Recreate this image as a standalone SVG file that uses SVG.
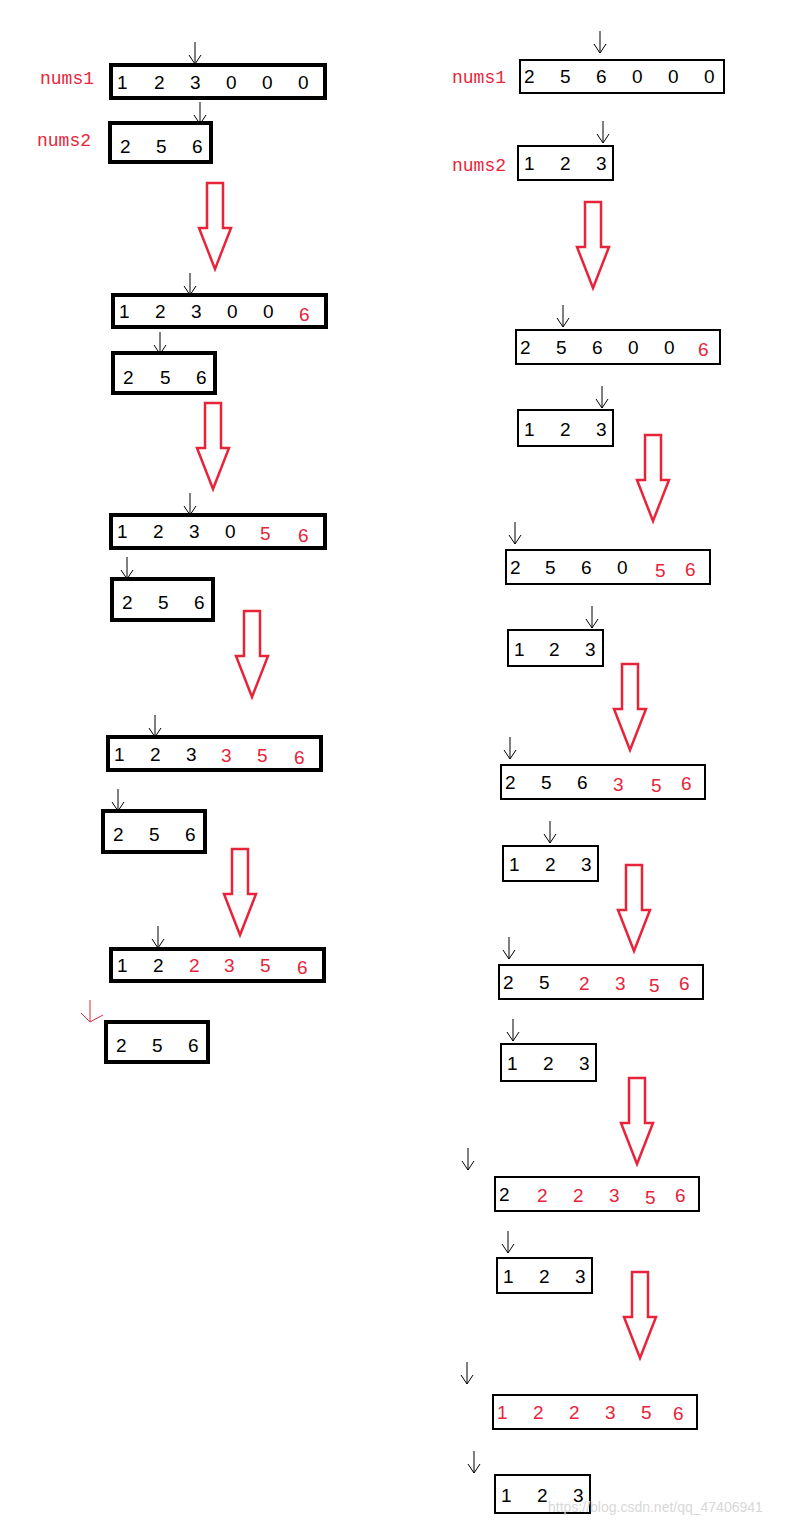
<svg xmlns="http://www.w3.org/2000/svg" width="799" height="1526" viewBox="0 0 799 1526">
<defs>
<style>
.bl{fill:#fff;stroke:#000;stroke-width:4}
.br{fill:#fff;stroke:#000;stroke-width:2}
text{font-family:"Liberation Sans",sans-serif;font-size:19px;fill:#000}
.r{fill:#e8243a}
.lab{font-family:"Liberation Mono",monospace;font-size:18px;fill:#e8243a}
.big{fill:#fff;stroke:#e8243a;stroke-width:2.5;stroke-linejoin:miter}
.sa{stroke:#000;stroke-width:1;fill:none}
</style>
<path id="ba" d="M8,0 H24 V45 H32 L16,86 L0,45 H8 Z"/>
<path id="sa" d="M0,0 V22 M-6,13 L0,22 L6,13"/>
</defs>
<rect width="799" height="1526" fill="#fff"/>
<g id="labels">
<text class="lab" x="40" y="84">nums1</text>
<text class="lab" x="37" y="146">nums2</text>
<text class="lab" x="452" y="83">nums1</text>
<text class="lab" x="452" y="171">nums2</text>
</g>
<g id="connectors">
<use href="#ba" class="big" x="199" y="183"/>
<use href="#ba" class="big" x="197" y="403"/>
<use href="#ba" class="big" x="236" y="611"/>
<use href="#ba" class="big" x="224" y="849"/>
<use href="#ba" class="big" x="577" y="202"/>
<use href="#ba" class="big" x="637" y="435"/>
<use href="#ba" class="big" x="614" y="664"/>
<use href="#ba" class="big" x="618" y="865"/>
<use href="#ba" class="big" x="621" y="1078"/>
<use href="#ba" class="big" x="624" y="1272"/>
<use href="#sa" class="sa" x="195" y="42"/>
<use href="#sa" class="sa" x="200" y="102"/>
<use href="#sa" class="sa" x="190" y="273"/>
<use href="#sa" class="sa" x="160" y="332"/>
<use href="#sa" class="sa" x="190" y="493"/>
<use href="#sa" class="sa" x="127" y="557"/>
<use href="#sa" class="sa" x="155" y="715"/>
<use href="#sa" class="sa" x="118" y="789"/>
<use href="#sa" class="sa" x="158" y="926"/>
<path d="M90,1000 V1022 M81,1013 L90,1022 L103,1015" stroke="#e8243a" fill="none"/>
<use href="#sa" class="sa" x="600" y="31"/>
<use href="#sa" class="sa" x="603" y="121"/>
<use href="#sa" class="sa" x="563" y="305"/>
<use href="#sa" class="sa" x="602" y="386"/>
<use href="#sa" class="sa" x="515" y="522"/>
<use href="#sa" class="sa" x="592" y="606"/>
<use href="#sa" class="sa" x="510" y="737"/>
<use href="#sa" class="sa" x="550" y="821"/>
<use href="#sa" class="sa" x="509" y="937"/>
<use href="#sa" class="sa" x="513" y="1019"/>
<use href="#sa" class="sa" x="468" y="1148"/>
<use href="#sa" class="sa" x="508" y="1231"/>
<use href="#sa" class="sa" x="467" y="1362"/>
<use href="#sa" class="sa" x="474" y="1451"/>
</g>
<g id="L1"><rect class="bl" x="111" y="65" width="214" height="33"/><text x="117" y="89">1</text><text x="154" y="89">2</text><text x="190" y="89">3</text><text x="226" y="89">0</text><text x="262" y="89">0</text><text x="298" y="89">0</text></g>
<g id="L2"><rect class="bl" x="110" y="123" width="101" height="39"/><text x="120" y="153">2</text><text x="156" y="153">5</text><text x="192" y="153">6</text></g>
<g id="L3"><rect class="bl" x="113" y="295" width="213" height="32"/><text x="119" y="318">1</text><text x="155" y="318">2</text><text x="191" y="318">3</text><text x="227" y="318">0</text><text x="263" y="318">0</text><text class="r" x="299" y="321">6</text></g>
<g id="L4"><rect class="bl" x="113" y="353" width="102" height="40"/><text x="123" y="384">2</text><text x="160" y="384">5</text><text x="196" y="384">6</text></g>
<g id="L5"><rect class="bl" x="111" y="515" width="214" height="33"/><text x="117" y="538">1</text><text x="153" y="538">2</text><text x="189" y="538">3</text><text x="225" y="538">0</text><text class="r" x="260" y="540">5</text><text class="r" x="298" y="542">6</text></g>
<g id="L6"><rect class="bl" x="112" y="579" width="101" height="41"/><text x="122" y="609">2</text><text x="158" y="609">5</text><text x="194" y="609">6</text></g>
<g id="L7"><rect class="bl" x="108" y="737" width="213" height="33"/><text x="114" y="761">1</text><text x="150" y="761">2</text><text x="186" y="761">3</text><text class="r" x="221" y="762">3</text><text class="r" x="257" y="762">5</text><text class="r" x="294" y="764">6</text></g>
<g id="L8"><rect class="bl" x="103" y="811" width="102" height="41"/><text x="113" y="841">2</text><text x="149" y="841">5</text><text x="185" y="841">6</text></g>
<g id="L9"><rect class="bl" x="111" y="949" width="213" height="32"/><text x="117" y="972">1</text><text x="153" y="972">2</text><text class="r" x="189" y="972">2</text><text class="r" x="224" y="972">3</text><text class="r" x="260" y="972">5</text><text class="r" x="297" y="974">6</text></g>
<g id="L10"><rect class="bl" x="106" y="1022" width="102" height="40"/><text x="116" y="1052">2</text><text x="152" y="1052">5</text><text x="188" y="1052">6</text></g>
<g id="R1"><rect class="br" x="520" y="60" width="204" height="33"/><text x="524" y="83">2</text><text x="560" y="83">5</text><text x="596" y="83">6</text><text x="632" y="83">0</text><text x="668" y="83">0</text><text x="704" y="83">0</text></g>
<g id="R2"><rect class="br" x="518" y="146" width="95" height="34"/><text x="524" y="170">1</text><text x="560" y="170">2</text><text x="596" y="170">3</text></g>
<g id="R3"><rect class="br" x="516" y="330" width="204" height="34"/><text x="520" y="354">2</text><text x="556" y="354">5</text><text x="592" y="354">6</text><text x="628" y="354">0</text><text x="664" y="354">0</text><text class="r" x="698" y="356">6</text></g>
<g id="R4"><rect class="br" x="518" y="410" width="95" height="36"/><text x="524" y="436">1</text><text x="560" y="436">2</text><text x="596" y="436">3</text></g>
<g id="R5"><rect class="br" x="506" y="550" width="204" height="34"/><text x="510" y="574">2</text><text x="545" y="574">5</text><text x="581" y="574">6</text><text x="617" y="574">0</text><text class="r" x="655" y="577">5</text><text class="r" x="685" y="576">6</text></g>
<g id="R6"><rect class="br" x="508" y="630" width="95" height="36"/><text x="514" y="656">1</text><text x="549" y="656">2</text><text x="585" y="656">3</text></g>
<g id="R7"><rect class="br" x="501" y="765" width="204" height="34"/><text x="505" y="789">2</text><text x="541" y="789">5</text><text x="577" y="789">6</text><text class="r" x="613" y="791">3</text><text class="r" x="651" y="792">5</text><text class="r" x="681" y="790">6</text></g>
<g id="R8"><rect class="br" x="503" y="846" width="95" height="35"/><text x="509" y="871">1</text><text x="545" y="871">2</text><text x="581" y="871">3</text></g>
<g id="R9"><rect class="br" x="499" y="965" width="204" height="34"/><text x="503" y="989">2</text><text x="539" y="989">5</text><text class="r" x="579" y="990">2</text><text class="r" x="615" y="990">3</text><text class="r" x="649" y="992">5</text><text class="r" x="679" y="990">6</text></g>
<g id="R10"><rect class="br" x="501" y="1044" width="95" height="37"/><text x="507" y="1070">1</text><text x="543" y="1070">2</text><text x="579" y="1070">3</text></g>
<g id="R11"><rect class="br" x="495" y="1177" width="204" height="34"/><text x="499" y="1201">2</text><text class="r" x="537" y="1202">2</text><text class="r" x="573" y="1202">2</text><text class="r" x="609" y="1202">3</text><text class="r" x="645" y="1204">5</text><text class="r" x="675" y="1202">6</text></g>
<g id="R12"><rect class="br" x="497" y="1258" width="95" height="35"/><text x="503" y="1283">1</text><text x="539" y="1283">2</text><text x="575" y="1283">3</text></g>
<g id="R13"><rect class="br" x="493" y="1395" width="204" height="34"/><text class="r" x="497" y="1419">1</text><text class="r" x="533" y="1419">2</text><text class="r" x="569" y="1419">2</text><text class="r" x="605" y="1419">3</text><text class="r" x="641" y="1419">5</text><text class="r" x="673" y="1420">6</text></g>
<g id="R14"><rect class="br" x="495" y="1475" width="95" height="38"/><text x="501" y="1502">1</text><text x="537" y="1502">2</text><text x="573" y="1502">3</text></g>
<text x="548" y="1512" style="font-size:14px;fill:#d8d8d8">https://blog.csdn.net/qq_47406941</text>
</svg>
